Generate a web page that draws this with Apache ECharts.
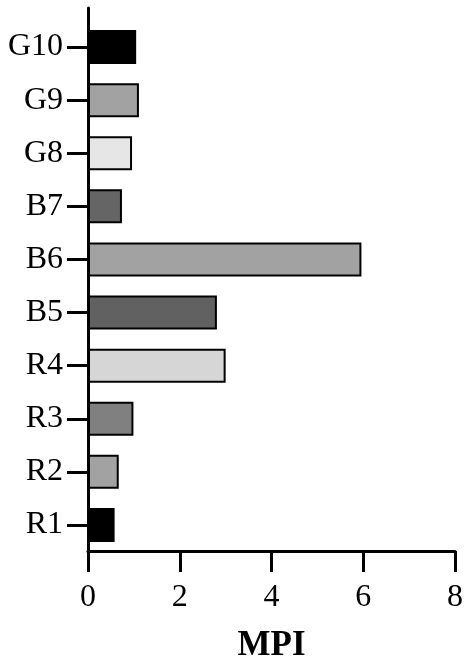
<!DOCTYPE html>
<html>
<head>
<meta charset="utf-8">
<script src="https://cdn.jsdelivr.net/npm/echarts@6/dist/echarts.min.js"></script>
<style>
  html, body { margin: 0; padding: 0; background: #fff; }
  #chart { width: 474px; height: 668px; }
</style>
</head>
<body>
<div id="chart"></div>
<script>
const categories = ['R1', 'R2', 'R3', 'R4', 'B5', 'B6', 'B7', 'G8', 'G9', 'G10'];
const mpiValues = [0.58, 0.67, 0.99, 3.0, 2.81, 5.96, 0.74, 0.96, 1.11, 1.05];
const barColors = ['#000000', '#a2a2a2', '#808080', '#d6d6d6', '#616161', '#a2a2a2', '#656565', '#e6e6e6', '#a2a2a2', '#000000'];
const xTicks = [0, 2, 4, 6, 8];

const font = "'Liberation Serif', 'Times New Roman', serif";

const chart = echarts.init(document.getElementById('chart'));

chart.setOption({
    animation: false,
    backgroundColor: '#fff',
    grid: [
        // frame with the axis spines and the MPI scale
        { left: 88, right: 19, top: 8, bottom: 108 },
        // inner grid holding the bars and category labels
        { left: 88, right: 19, top: 20.5, bottom: 116.5 }
    ],
    xAxis: [
        {
            gridIndex: 0,
            type: 'value',
            min: xTicks[0],
            max: xTicks[xTicks.length - 1],
            interval: 2,
            name: 'MPI',
            nameLocation: 'middle',
            nameGap: 77,
            nameTextStyle: { fontFamily: font, fontSize: 35, fontWeight: 'bold', color: '#000' },
            axisLine: { show: true, lineStyle: { color: '#000', width: 3 } },
            axisTick: { show: true, length: 21, lineStyle: { color: '#000', width: 3 } },
            axisLabel: { fontFamily: font, fontSize: 32, color: '#000', margin: 31 },
            splitLine: { show: false }
        },
        {
            gridIndex: 1,
            type: 'value',
            min: xTicks[0],
            max: xTicks[xTicks.length - 1],
            show: false
        }
    ],
    yAxis: [
        {
            gridIndex: 0,
            type: 'value',
            min: 0,
            max: 1,
            axisLine: { show: true, lineStyle: { color: '#000', width: 3 } },
            axisTick: { show: false },
            axisLabel: { show: false },
            splitLine: { show: false }
        },
        {
            gridIndex: 1,
            type: 'category',
            data: categories,
            axisLine: { show: false },
            axisTick: { show: true, alignWithLabel: true, length: 21, lineStyle: { color: '#000', width: 3 } },
            axisLabel: { fontFamily: font, fontSize: 32, color: '#000', margin: 25 },
            splitLine: { show: false }
        }
    ],
    series: [{
        type: 'bar',
        xAxisIndex: 1,
        yAxisIndex: 1,
        barWidth: 34,
        data: mpiValues.map((v, i) => ({
            value: v,
            itemStyle: { color: barColors[i] }
        })),
        itemStyle: { borderColor: '#000', borderWidth: 2 }
    }]
});
</script>
</body>
</html>
